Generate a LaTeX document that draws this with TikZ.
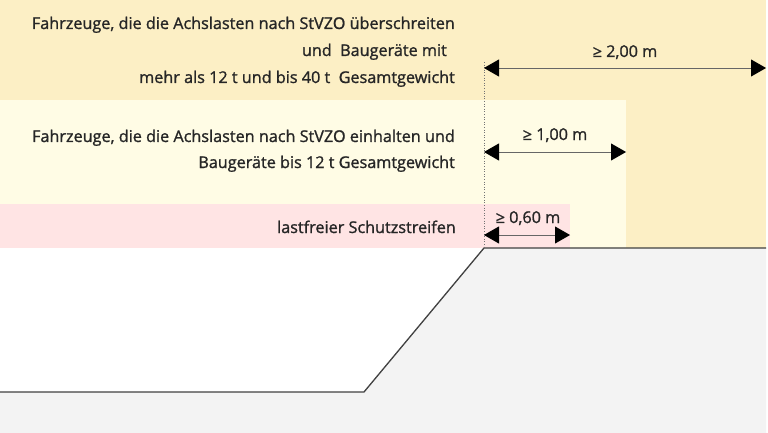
\documentclass[tikz,border=0pt]{standalone}
\usepackage{fontspec}
\setmainfont{Open Sans}[FakeBold=1.2]
\usetikzlibrary{arrows.meta}
\definecolor{heavyzone}{HTML}{FCEFC5}
\definecolor{lightzone}{HTML}{FFFCE5}
\definecolor{stripzone}{HTML}{FFE4E4}
\definecolor{groundfill}{HTML}{F3F3F3}
\begin{document}
\begin{tikzpicture}[x=1pt, y=-1pt, >={Triangle[length=15pt, width=17pt, color=black]},
    label/.style={anchor=base east, inner sep=0pt, text=black!85, font=\fontsize{16.2}{19}\selectfont},
    size/.style={anchor=base, inner sep=0pt, text=black!85, font=\fontsize{16.2}{19}\selectfont},
    dim/.style={<->, draw=black!60, line width=0.8pt}]

    \useasboundingbox (0,0) rectangle (768,433);

    % Zones for the loads
    \fill[heavyzone] (0,0) rectangle (766,248);
    \fill[lightzone] (0,100) rectangle (626,248);
    \fill[stripzone] (0,204) rectangle (570,248);

    % Ground and slope
    \fill[groundfill] (0,392) -- (364,392) -- (484,248) -- (766,248) -- (766,433) -- (0,433) -- cycle;
    \draw[black!75, line width=1.3pt] (0,392) -- (364,392) -- (484,248) -- (766,248);

    % Texts for the zones
    \node at (455,29) (heavy1) [label] {Fahrzeuge, die die Achslasten nach StVZO überschreiten};
    \node at (447,56) (heavy2) [label] {und\ \ Baugeräte mit};
    \node at (455,83) (heavy3) [label] {mehr als 12 t und bis 40 t\ \ Gesamtgewicht};
    \node at (455,142) (light1) [label] {Fahrzeuge, die die Achslasten nach StVZO einhalten und};
    \node at (455,168) (light2) [label] {Baugeräte bis 12 t Gesamtgewicht};
    \node at (456,233) (strip1) [label] {lastfreier Schutzstreifen};

    % Reference line at the slope edge
    \coordinate (edgetop) at (484,62);
    \coordinate (edgefoot) at (484,248);
    \draw[black!55, dotted, line width=0.6pt] (edgetop) -- (edgefoot);

    % Points for the distances
    \coordinate (heavyA) at (484,68);
    \coordinate (heavyB) at (766,68);
    \coordinate (lightA) at (484,152);
    \coordinate (lightB) at (626,152);
    \coordinate (stripA) at (484,235);
    \coordinate (stripB) at (570,235);

    % Arrows for the distances
    \draw[dim] (heavyA) -- (heavyB);
    \draw[dim] (lightA) -- (lightB);
    \draw[dim] (stripA) -- (stripB);

    % Labels for the distances
    \node at (625,57) (heavyD) [size] {≥ 2,00 m};
    \node at (555,140) (lightD) [size] {≥ 1,00 m};
    \node at (528,223) (stripD) [size] {≥ 0,60 m};

\end{tikzpicture}
\end{document}
